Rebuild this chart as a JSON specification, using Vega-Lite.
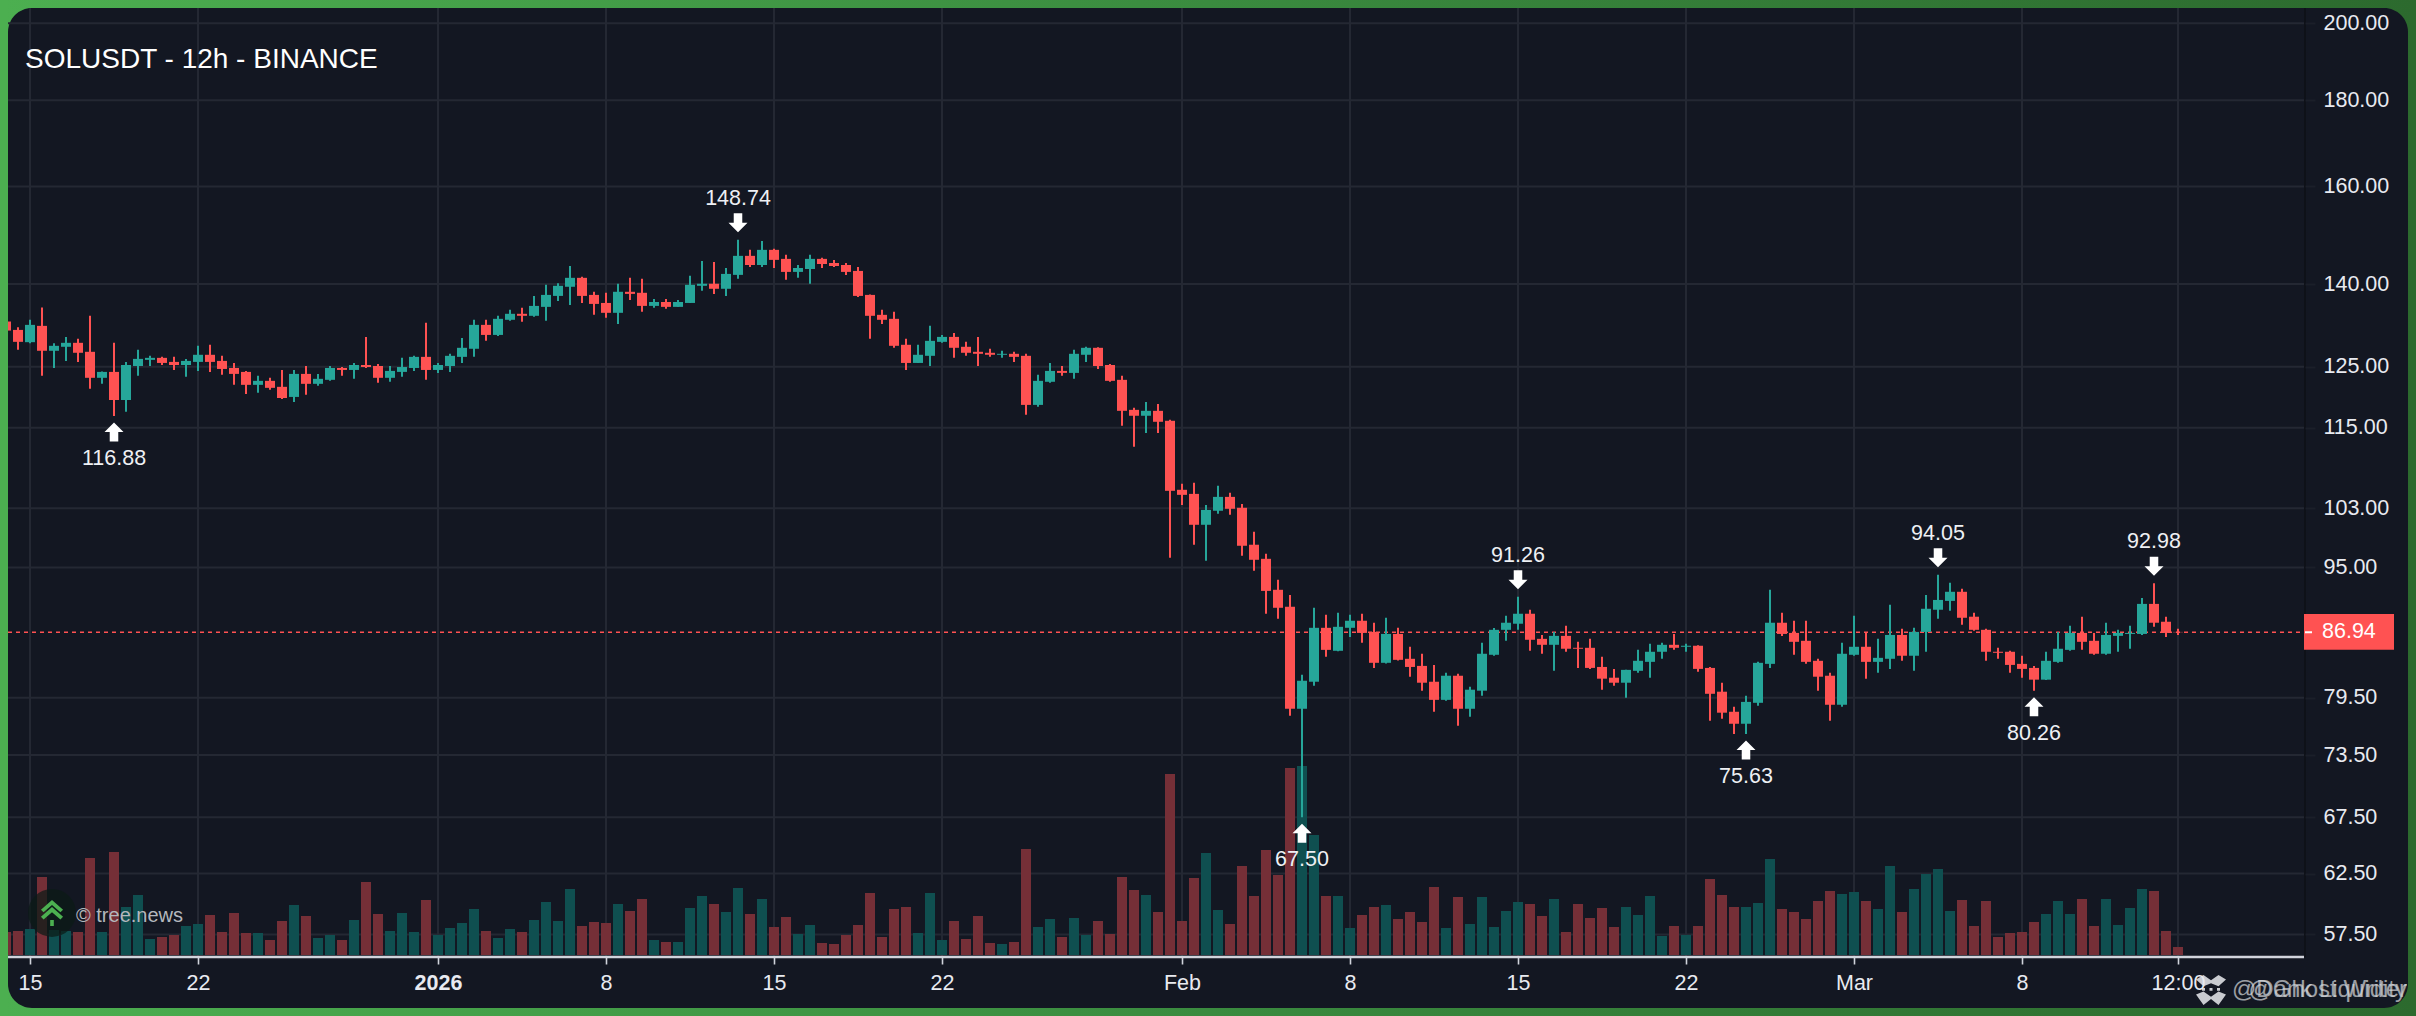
{
  "$schema": "https://vega.github.io/schema/vega-lite/v6.json",
  "width": 2416,
  "height": 1016,
  "padding": 0,
  "autosize": "none",
  "background": "#3d8d40",
  "config": {"view": {"stroke": null}, "font": "Liberation Sans", "axis": {"title": null}},
  "datasets": {
    "candles": [
      {"t":"2025-12-14T00:00Z","o":133.00,"h":133.31,"l":131.18,"c":131.36,"v":23},
      {"t":"2025-12-14T12:00Z","o":131.48,"h":131.97,"l":127.95,"c":129.35,"v":24},
      {"t":"2025-12-15T00:00Z","o":129.29,"h":133.31,"l":129.12,"c":132.39,"v":26},
      {"t":"2025-12-15T12:00Z","o":132.21,"h":135.57,"l":123.47,"c":127.78,"v":78},
      {"t":"2025-12-16T00:00Z","o":127.78,"h":129.12,"l":124.81,"c":128.65,"v":25},
      {"t":"2025-12-16T12:00Z","o":128.48,"h":130.23,"l":126.02,"c":129.18,"v":24},
      {"t":"2025-12-17T00:00Z","o":129.18,"h":129.88,"l":125.85,"c":127.43,"v":23},
      {"t":"2025-12-17T12:00Z","o":127.60,"h":134.04,"l":121.30,"c":123.14,"v":97},
      {"t":"2025-12-18T00:00Z","o":123.14,"h":124.20,"l":122.13,"c":124.14,"v":23},
      {"t":"2025-12-18T12:00Z","o":124.14,"h":129.18,"l":116.88,"c":119.46,"v":103},
      {"t":"2025-12-19T00:00Z","o":119.46,"h":125.85,"l":117.54,"c":125.32,"v":48},
      {"t":"2025-12-19T12:00Z","o":125.15,"h":127.95,"l":123.47,"c":126.37,"v":60},
      {"t":"2025-12-20T00:00Z","o":126.20,"h":126.90,"l":125.15,"c":126.55,"v":16},
      {"t":"2025-12-20T12:00Z","o":126.55,"h":126.72,"l":125.32,"c":125.67,"v":18},
      {"t":"2025-12-21T00:00Z","o":125.85,"h":126.72,"l":124.47,"c":125.32,"v":20},
      {"t":"2025-12-21T12:00Z","o":125.32,"h":126.37,"l":123.30,"c":126.02,"v":29},
      {"t":"2025-12-22T00:00Z","o":125.85,"h":128.65,"l":124.31,"c":127.08,"v":31},
      {"t":"2025-12-22T12:00Z","o":127.08,"h":128.83,"l":124.14,"c":125.85,"v":40},
      {"t":"2025-12-23T00:00Z","o":126.02,"h":126.90,"l":123.64,"c":124.64,"v":23},
      {"t":"2025-12-23T12:00Z","o":124.81,"h":125.67,"l":121.96,"c":123.80,"v":42},
      {"t":"2025-12-24T00:00Z","o":124.14,"h":124.31,"l":120.46,"c":121.96,"v":22},
      {"t":"2025-12-24T12:00Z","o":121.96,"h":123.47,"l":120.63,"c":122.63,"v":22},
      {"t":"2025-12-25T00:00Z","o":122.63,"h":123.14,"l":121.13,"c":121.46,"v":15},
      {"t":"2025-12-25T12:00Z","o":121.63,"h":124.47,"l":119.63,"c":119.79,"v":34},
      {"t":"2025-12-26T00:00Z","o":119.96,"h":124.47,"l":119.14,"c":123.80,"v":50},
      {"t":"2025-12-26T12:00Z","o":123.80,"h":125.15,"l":120.30,"c":122.13,"v":39},
      {"t":"2025-12-27T00:00Z","o":122.13,"h":123.80,"l":121.80,"c":122.97,"v":17},
      {"t":"2025-12-27T12:00Z","o":122.80,"h":125.15,"l":122.63,"c":124.81,"v":20},
      {"t":"2025-12-28T00:00Z","o":124.81,"h":124.97,"l":123.47,"c":124.47,"v":15},
      {"t":"2025-12-28T12:00Z","o":124.47,"h":125.67,"l":122.97,"c":125.32,"v":35},
      {"t":"2025-12-29T00:00Z","o":125.32,"h":130.23,"l":124.81,"c":124.97,"v":73},
      {"t":"2025-12-29T12:00Z","o":125.15,"h":125.50,"l":122.30,"c":123.14,"v":41},
      {"t":"2025-12-30T00:00Z","o":123.14,"h":125.15,"l":122.47,"c":124.31,"v":24},
      {"t":"2025-12-30T12:00Z","o":124.14,"h":126.55,"l":123.30,"c":124.97,"v":42},
      {"t":"2025-12-31T00:00Z","o":124.81,"h":126.90,"l":124.31,"c":126.72,"v":23},
      {"t":"2025-12-31T12:00Z","o":126.72,"h":132.76,"l":122.80,"c":124.47,"v":55},
      {"t":"2026-01-01T00:00Z","o":124.47,"h":125.67,"l":123.97,"c":125.32,"v":20},
      {"t":"2026-01-01T12:00Z","o":125.15,"h":127.25,"l":124.14,"c":126.90,"v":27},
      {"t":"2026-01-02T00:00Z","o":126.72,"h":130.05,"l":125.67,"c":128.30,"v":32},
      {"t":"2026-01-02T12:00Z","o":128.13,"h":133.31,"l":126.72,"c":132.39,"v":46},
      {"t":"2026-01-03T00:00Z","o":132.39,"h":133.31,"l":129.53,"c":130.58,"v":24},
      {"t":"2026-01-03T12:00Z","o":130.58,"h":134.04,"l":130.40,"c":133.49,"v":17},
      {"t":"2026-01-04T00:00Z","o":133.31,"h":135.14,"l":133.12,"c":134.41,"v":26},
      {"t":"2026-01-04T12:00Z","o":134.41,"h":135.51,"l":132.94,"c":134.04,"v":23},
      {"t":"2026-01-05T00:00Z","o":134.04,"h":137.74,"l":133.86,"c":135.87,"v":35},
      {"t":"2026-01-05T12:00Z","o":135.69,"h":139.85,"l":133.12,"c":137.93,"v":53},
      {"t":"2026-01-06T00:00Z","o":137.74,"h":140.17,"l":136.79,"c":139.66,"v":34},
      {"t":"2026-01-06T12:00Z","o":139.47,"h":143.49,"l":136.05,"c":141.19,"v":66},
      {"t":"2026-01-07T00:00Z","o":141.19,"h":141.38,"l":136.42,"c":137.74,"v":29},
      {"t":"2026-01-07T12:00Z","o":137.93,"h":138.52,"l":134.22,"c":136.24,"v":33},
      {"t":"2026-01-08T00:00Z","o":136.42,"h":138.33,"l":133.67,"c":134.59,"v":32},
      {"t":"2026-01-08T12:00Z","o":134.59,"h":140.05,"l":132.57,"c":138.52,"v":51},
      {"t":"2026-01-09T00:00Z","o":138.52,"h":141.19,"l":136.97,"c":138.12,"v":44},
      {"t":"2026-01-09T12:00Z","o":138.33,"h":141.00,"l":134.77,"c":135.87,"v":56},
      {"t":"2026-01-10T00:00Z","o":135.87,"h":137.16,"l":135.51,"c":136.60,"v":15},
      {"t":"2026-01-10T12:00Z","o":136.60,"h":137.16,"l":135.32,"c":135.69,"v":13},
      {"t":"2026-01-11T00:00Z","o":135.69,"h":136.97,"l":135.69,"c":136.60,"v":13},
      {"t":"2026-01-11T12:00Z","o":136.42,"h":141.57,"l":136.42,"c":139.85,"v":47},
      {"t":"2026-01-12T00:00Z","o":139.66,"h":144.50,"l":138.71,"c":140.05,"v":59},
      {"t":"2026-01-12T12:00Z","o":140.05,"h":144.29,"l":138.12,"c":139.09,"v":51},
      {"t":"2026-01-13T00:00Z","o":139.09,"h":143.10,"l":137.74,"c":141.95,"v":43},
      {"t":"2026-01-13T12:00Z","o":141.76,"h":148.74,"l":141.00,"c":145.50,"v":67},
      {"t":"2026-01-14T00:00Z","o":145.50,"h":146.70,"l":143.30,"c":143.69,"v":41},
      {"t":"2026-01-14T12:00Z","o":143.69,"h":148.51,"l":143.30,"c":146.70,"v":56},
      {"t":"2026-01-15T00:00Z","o":146.70,"h":146.90,"l":143.10,"c":144.70,"v":28},
      {"t":"2026-01-15T12:00Z","o":144.90,"h":145.70,"l":140.80,"c":142.34,"v":38},
      {"t":"2026-01-16T00:00Z","o":142.34,"h":143.69,"l":141.19,"c":143.10,"v":21},
      {"t":"2026-01-16T12:00Z","o":142.91,"h":145.70,"l":140.05,"c":144.90,"v":30},
      {"t":"2026-01-17T00:00Z","o":144.90,"h":145.10,"l":143.10,"c":143.89,"v":12},
      {"t":"2026-01-17T12:00Z","o":144.09,"h":144.70,"l":143.30,"c":143.49,"v":11},
      {"t":"2026-01-18T00:00Z","o":143.69,"h":144.09,"l":141.76,"c":142.34,"v":20},
      {"t":"2026-01-18T12:00Z","o":142.53,"h":143.30,"l":137.55,"c":137.74,"v":30},
      {"t":"2026-01-19T00:00Z","o":137.93,"h":138.00,"l":129.88,"c":134.04,"v":62},
      {"t":"2026-01-19T12:00Z","o":134.22,"h":135.14,"l":132.57,"c":133.31,"v":18},
      {"t":"2026-01-20T00:00Z","o":133.49,"h":134.77,"l":128.30,"c":128.65,"v":46},
      {"t":"2026-01-20T12:00Z","o":128.83,"h":129.88,"l":124.47,"c":125.67,"v":48},
      {"t":"2026-01-21T00:00Z","o":125.67,"h":128.83,"l":125.67,"c":127.08,"v":22},
      {"t":"2026-01-21T12:00Z","o":126.90,"h":132.21,"l":125.15,"c":129.53,"v":62},
      {"t":"2026-01-22T00:00Z","o":129.35,"h":130.58,"l":129.18,"c":130.23,"v":15},
      {"t":"2026-01-22T12:00Z","o":130.23,"h":130.93,"l":126.55,"c":128.30,"v":34},
      {"t":"2026-01-23T00:00Z","o":128.48,"h":129.35,"l":126.90,"c":127.43,"v":16},
      {"t":"2026-01-23T12:00Z","o":127.60,"h":130.23,"l":125.15,"c":127.25,"v":39},
      {"t":"2026-01-24T00:00Z","o":127.43,"h":128.13,"l":126.72,"c":127.08,"v":12},
      {"t":"2026-01-24T12:00Z","o":127.08,"h":127.78,"l":126.55,"c":127.25,"v":11},
      {"t":"2026-01-25T00:00Z","o":127.25,"h":127.60,"l":125.85,"c":126.72,"v":13},
      {"t":"2026-01-25T12:00Z","o":126.90,"h":127.25,"l":117.07,"c":118.66,"v":106},
      {"t":"2026-01-26T00:00Z","o":118.66,"h":123.64,"l":118.34,"c":122.63,"v":28},
      {"t":"2026-01-26T12:00Z","o":122.47,"h":125.67,"l":122.30,"c":124.31,"v":36},
      {"t":"2026-01-27T00:00Z","o":124.31,"h":125.15,"l":123.47,"c":123.97,"v":18},
      {"t":"2026-01-27T12:00Z","o":123.97,"h":127.95,"l":122.97,"c":127.25,"v":37},
      {"t":"2026-01-28T00:00Z","o":127.08,"h":128.48,"l":125.85,"c":128.30,"v":20},
      {"t":"2026-01-28T12:00Z","o":128.30,"h":128.40,"l":124.64,"c":125.15,"v":34},
      {"t":"2026-01-29T00:00Z","o":125.32,"h":125.50,"l":122.47,"c":122.63,"v":21},
      {"t":"2026-01-29T12:00Z","o":122.80,"h":123.47,"l":115.31,"c":117.70,"v":78},
      {"t":"2026-01-30T00:00Z","o":117.86,"h":118.18,"l":112.05,"c":116.91,"v":65},
      {"t":"2026-01-30T12:00Z","o":116.91,"h":119.14,"l":114.19,"c":117.70,"v":60},
      {"t":"2026-01-31T00:00Z","o":117.70,"h":118.82,"l":114.19,"c":115.95,"v":43},
      {"t":"2026-01-31T12:00Z","o":116.11,"h":116.27,"l":96.26,"c":105.50,"v":181},
      {"t":"2026-02-01T00:00Z","o":105.65,"h":106.52,"l":103.49,"c":104.92,"v":34},
      {"t":"2026-02-01T12:00Z","o":105.06,"h":106.67,"l":98.00,"c":100.71,"v":77},
      {"t":"2026-02-02T00:00Z","o":100.71,"h":103.49,"l":95.86,"c":102.78,"v":102},
      {"t":"2026-02-02T12:00Z","o":102.66,"h":106.23,"l":102.23,"c":104.63,"v":45},
      {"t":"2026-02-03T00:00Z","o":104.63,"h":105.21,"l":102.09,"c":102.94,"v":31},
      {"t":"2026-02-03T12:00Z","o":103.08,"h":103.63,"l":96.53,"c":97.86,"v":89},
      {"t":"2026-02-04T00:00Z","o":98.00,"h":99.74,"l":94.56,"c":96.00,"v":59},
      {"t":"2026-02-04T12:00Z","o":96.13,"h":96.80,"l":89.17,"c":92.00,"v":105},
      {"t":"2026-02-05T00:00Z","o":92.14,"h":93.41,"l":88.56,"c":89.90,"v":80},
      {"t":"2026-02-05T12:00Z","o":90.02,"h":91.50,"l":77.56,"c":78.30,"v":187},
      {"t":"2026-02-06T00:00Z","o":78.30,"h":82.03,"l":67.50,"c":81.36,"v":189},
      {"t":"2026-02-06T12:00Z","o":81.25,"h":89.90,"l":80.81,"c":87.47,"v":120},
      {"t":"2026-02-07T00:00Z","o":87.47,"h":89.05,"l":84.07,"c":84.87,"v":59},
      {"t":"2026-02-07T12:00Z","o":84.76,"h":89.29,"l":84.70,"c":87.59,"v":59},
      {"t":"2026-02-08T00:00Z","o":87.47,"h":89.05,"l":86.39,"c":88.32,"v":27},
      {"t":"2026-02-08T12:00Z","o":88.32,"h":89.17,"l":85.70,"c":86.86,"v":40},
      {"t":"2026-02-09T00:00Z","o":86.98,"h":88.08,"l":82.80,"c":83.38,"v":48},
      {"t":"2026-02-09T12:00Z","o":83.38,"h":88.68,"l":83.30,"c":86.74,"v":50},
      {"t":"2026-02-10T00:00Z","o":86.74,"h":87.47,"l":83.65,"c":83.72,"v":36},
      {"t":"2026-02-10T12:00Z","o":83.84,"h":85.23,"l":81.81,"c":82.91,"v":43},
      {"t":"2026-02-11T00:00Z","o":83.03,"h":84.42,"l":80.26,"c":81.14,"v":33},
      {"t":"2026-02-11T12:00Z","o":81.25,"h":83.14,"l":77.98,"c":79.26,"v":68},
      {"t":"2026-02-12T00:00Z","o":79.26,"h":82.25,"l":79.15,"c":81.92,"v":27},
      {"t":"2026-02-12T12:00Z","o":81.92,"h":82.14,"l":76.50,"c":78.30,"v":58},
      {"t":"2026-02-13T00:00Z","o":78.30,"h":80.70,"l":77.45,"c":80.37,"v":31},
      {"t":"2026-02-13T12:00Z","o":80.26,"h":85.70,"l":79.70,"c":84.42,"v":58},
      {"t":"2026-02-14T00:00Z","o":84.30,"h":87.45,"l":84.19,"c":87.23,"v":28},
      {"t":"2026-02-14T12:00Z","o":87.23,"h":88.93,"l":85.93,"c":88.08,"v":44},
      {"t":"2026-02-15T00:00Z","o":87.96,"h":91.26,"l":87.23,"c":89.17,"v":53},
      {"t":"2026-02-15T12:00Z","o":89.17,"h":89.66,"l":84.76,"c":86.05,"v":51},
      {"t":"2026-02-16T00:00Z","o":86.16,"h":86.62,"l":84.42,"c":85.46,"v":39},
      {"t":"2026-02-16T12:00Z","o":85.46,"h":86.98,"l":82.47,"c":86.51,"v":56},
      {"t":"2026-02-17T00:00Z","o":86.51,"h":87.71,"l":84.65,"c":85.00,"v":23},
      {"t":"2026-02-17T12:00Z","o":85.11,"h":85.81,"l":82.80,"c":85.00,"v":51},
      {"t":"2026-02-18T00:00Z","o":85.11,"h":86.16,"l":82.69,"c":82.80,"v":37},
      {"t":"2026-02-18T12:00Z","o":82.91,"h":84.07,"l":80.37,"c":81.59,"v":47},
      {"t":"2026-02-19T00:00Z","o":81.70,"h":82.69,"l":80.81,"c":81.14,"v":28},
      {"t":"2026-02-19T12:00Z","o":81.14,"h":82.60,"l":79.48,"c":82.58,"v":48},
      {"t":"2026-02-20T00:00Z","o":82.47,"h":84.87,"l":82.25,"c":83.61,"v":40},
      {"t":"2026-02-20T12:00Z","o":83.49,"h":85.58,"l":81.70,"c":84.65,"v":59},
      {"t":"2026-02-21T00:00Z","o":84.65,"h":85.70,"l":83.84,"c":85.46,"v":19},
      {"t":"2026-02-21T12:00Z","o":85.46,"h":86.74,"l":84.87,"c":85.11,"v":29},
      {"t":"2026-02-22T00:00Z","o":85.23,"h":85.58,"l":84.65,"c":85.35,"v":20},
      {"t":"2026-02-22T12:00Z","o":85.35,"h":85.40,"l":82.36,"c":82.69,"v":29},
      {"t":"2026-02-23T00:00Z","o":82.80,"h":82.91,"l":77.03,"c":79.92,"v":76},
      {"t":"2026-02-23T12:00Z","o":80.15,"h":81.14,"l":77.24,"c":77.88,"v":60},
      {"t":"2026-02-24T00:00Z","o":77.98,"h":78.52,"l":75.65,"c":76.71,"v":48},
      {"t":"2026-02-24T12:00Z","o":76.71,"h":79.70,"l":75.63,"c":79.04,"v":48},
      {"t":"2026-02-25T00:00Z","o":78.94,"h":83.49,"l":78.62,"c":83.38,"v":52},
      {"t":"2026-02-25T12:00Z","o":83.26,"h":92.14,"l":82.80,"c":88.08,"v":96},
      {"t":"2026-02-26T00:00Z","o":88.08,"h":89.29,"l":86.51,"c":86.74,"v":46},
      {"t":"2026-02-26T12:00Z","o":86.86,"h":88.32,"l":84.30,"c":85.81,"v":43},
      {"t":"2026-02-27T00:00Z","o":85.93,"h":88.32,"l":83.26,"c":83.49,"v":36},
      {"t":"2026-02-27T12:00Z","o":83.61,"h":83.84,"l":80.26,"c":81.81,"v":54},
      {"t":"2026-02-28T00:00Z","o":81.92,"h":82.25,"l":77.03,"c":78.73,"v":64},
      {"t":"2026-02-28T12:00Z","o":78.73,"h":85.70,"l":78.52,"c":84.42,"v":61},
      {"t":"2026-03-01T00:00Z","o":84.30,"h":88.93,"l":84.19,"c":85.23,"v":63},
      {"t":"2026-03-01T12:00Z","o":85.23,"h":86.98,"l":81.59,"c":83.49,"v":54},
      {"t":"2026-03-02T00:00Z","o":83.49,"h":86.16,"l":82.25,"c":83.95,"v":46},
      {"t":"2026-03-02T12:00Z","o":83.84,"h":90.26,"l":82.69,"c":86.62,"v":89},
      {"t":"2026-03-03T00:00Z","o":86.62,"h":87.35,"l":83.61,"c":84.19,"v":43},
      {"t":"2026-03-03T12:00Z","o":84.19,"h":87.47,"l":82.47,"c":86.98,"v":66},
      {"t":"2026-03-04T00:00Z","o":86.98,"h":91.50,"l":84.65,"c":89.78,"v":81},
      {"t":"2026-03-04T12:00Z","o":89.66,"h":94.05,"l":88.56,"c":90.87,"v":86},
      {"t":"2026-03-05T00:00Z","o":90.75,"h":93.03,"l":89.54,"c":91.89,"v":44},
      {"t":"2026-03-05T12:00Z","o":91.89,"h":92.27,"l":87.83,"c":88.68,"v":55},
      {"t":"2026-03-06T00:00Z","o":88.81,"h":89.29,"l":87.11,"c":87.23,"v":29},
      {"t":"2026-03-06T12:00Z","o":87.23,"h":87.35,"l":83.61,"c":84.65,"v":54},
      {"t":"2026-03-07T00:00Z","o":84.65,"h":85.11,"l":83.84,"c":84.53,"v":18},
      {"t":"2026-03-07T12:00Z","o":84.65,"h":84.76,"l":82.25,"c":83.14,"v":22},
      {"t":"2026-03-08T00:00Z","o":83.26,"h":84.19,"l":81.70,"c":82.69,"v":23},
      {"t":"2026-03-08T12:00Z","o":82.80,"h":83.03,"l":80.26,"c":81.48,"v":33},
      {"t":"2026-03-09T00:00Z","o":81.48,"h":84.65,"l":81.45,"c":83.61,"v":41},
      {"t":"2026-03-09T12:00Z","o":83.49,"h":86.98,"l":83.38,"c":85.00,"v":54},
      {"t":"2026-03-10T00:00Z","o":84.87,"h":87.71,"l":84.76,"c":86.86,"v":41},
      {"t":"2026-03-10T12:00Z","o":86.86,"h":88.81,"l":84.87,"c":85.81,"v":56},
      {"t":"2026-03-11T00:00Z","o":85.93,"h":86.86,"l":84.30,"c":84.42,"v":29},
      {"t":"2026-03-11T12:00Z","o":84.42,"h":88.08,"l":84.30,"c":86.62,"v":56},
      {"t":"2026-03-12T00:00Z","o":86.51,"h":87.23,"l":84.65,"c":86.86,"v":30},
      {"t":"2026-03-12T12:00Z","o":86.74,"h":87.71,"l":85.00,"c":86.86,"v":47},
      {"t":"2026-03-13T00:00Z","o":86.74,"h":91.12,"l":86.62,"c":90.38,"v":66},
      {"t":"2026-03-13T12:00Z","o":90.38,"h":92.98,"l":87.59,"c":88.08,"v":64},
      {"t":"2026-03-14T00:00Z","o":88.20,"h":88.81,"l":86.39,"c":86.86,"v":24},
      {"t":"2026-03-14T12:00Z","o":86.98,"h":87.35,"l":86.62,"c":86.94,"v":8}
    ],
    "priceTicks": [{"p":200},{"p":180},{"p":160},{"p":140},{"p":125},{"p":115},{"p":103},{"p":95},{"p":79.5},{"p":73.5},{"p":67.5},{"p":62.5},{"p":57.5}],
    "timeTicks": [{"t":1765756800000},{"t":1766361600000},{"t":1767225600000},{"t":1767830400000},{"t":1768435200000},{"t":1769040000000},{"t":1769904000000},{"t":1770508800000},{"t":1771113600000},{"t":1771718400000},{"t":1772323200000},{"t":1772928000000},{"t":1773489600000}],
    "extremes": [
      {"t":"2025-12-18T12:00Z","price":116.88,"kind":"low"},
      {"t":"2026-01-13T12:00Z","price":148.74,"kind":"high"},
      {"t":"2026-02-06T00:00Z","price":67.50,"kind":"low"},
      {"t":"2026-02-15T00:00Z","price":91.26,"kind":"high"},
      {"t":"2026-02-24T12:00Z","price":75.63,"kind":"low"},
      {"t":"2026-03-04T12:00Z","price":94.05,"kind":"high"},
      {"t":"2026-03-08T12:00Z","price":80.26,"kind":"low"},
      {"t":"2026-03-13T12:00Z","price":92.98,"kind":"high"}
    ]
  },
  "layer": [
    {
      "layer": [
        {
          "data": {"values": [{}]},
          "mark": {"type": "rect", "fill": {"gradient": "linear", "x1": 0, "x2": 1, "y1": 0, "y2": 0, "stops": [{"offset": 0, "color": "#4caf50"}, {"offset": 0.5, "color": "#3a8b3f"}, {"offset": 1, "color": "#2c6a2e"}]}},
          "encoding": {
            "x": {"datum": 1765648800000, "type": "temporal", "scale": {"type": "utc", "domain": [1765648800000, 1774346400000], "nice": false, "padding": 0}, "axis": {"orient": "bottom", "offset": -59, "values": [1765756800000, 1766361600000, 1767225600000, 1767830400000, 1768435200000, 1769040000000, 1769904000000, 1770508800000, 1771113600000, 1771718400000, 1772323200000, 1772928000000, 1773489600000], "labelExpr": "utchours(datum.value) == 12 ? '12:00' : utcdate(datum.value) == 1 ? (utcmonth(datum.value) == 0 ? utcFormat(datum.value, '%Y') : utcFormat(datum.value, '%b')) : utcFormat(datum.value, '%-d')", "labelFontWeight": {"condition": {"test": "utcmonth(datum.value) == 0 && utcdate(datum.value) == 1", "value": 700}, "value": 400}, "title": null, "grid": false, "domain": false, "tickColor": "#d1d4dc", "tickWidth": 1.6, "tickSize": 7, "labelColor": "#e8eaf0", "labelFont": "Liberation Sans", "labelFontSize": 21.5, "labelPadding": 8, "labelOverlap": false, "labelBound": false, "labelFlush": false, "zindex": 1}},
            "x2": {"datum": 1774346400000},
            "y": {"datum": 206.48, "type": "quantitative", "axis": null, "scale": {"type": "log", "domain": [51.43, 206.48], "nice": false}},
            "y2": {"datum": 51.43}
          }
        },
        {
          "data": {"values": [{}]},
          "mark": {"type": "rect", "fill": "#131722", "cornerRadius": 24},
          "encoding": {
            "x": {"datum": 1765677600000, "type": "temporal"},
            "x2": {"datum": 1774317600000},
            "y": {"datum": 204.23, "type": "quantitative", "axis": null},
            "y2": {"datum": 52.0}
          }
        },
        {
          "data": {"name": "priceTicks"},
          "mark": {"type": "rule", "color": "#242833", "strokeWidth": 2},
          "encoding": {
            "x": {"datum": 1765677600000, "type": "temporal"},
            "x2": {"datum": 1773943200000},
            "y": {"field": "p", "type": "quantitative", "axis": null}
          }
        },
        {
          "data": {"name": "timeTicks"},
          "mark": {"type": "rule", "color": "#242833", "strokeWidth": 2},
          "encoding": {
            "x": {"field": "t", "type": "temporal"},
            "y": {"datum": 204.23, "type": "quantitative", "axis": null},
            "y2": {"datum": 55.76}
          }
        }
      ]
    },
    {
      "data": {"name": "candles"},
      "mark": {"type": "bar", "size": 10},
      "encoding": {
        "x": {"field": "t", "type": "temporal"},
        "y": {"field": "v", "type": "quantitative", "axis": null, "scale": {"domain": [-61, 955], "nice": false, "zero": false}},
        "y2": {"datum": 0},
        "color": {"condition": {"test": "datum.c >= datum.o", "value": "#0f4f50"}, "value": "#752f37"}
      }
    },
    {
      "layer": [
        {
          "data": {"values": [{"p": 86.94}]},
          "mark": {"type": "rule", "color": "#ff5252", "strokeWidth": 1.6, "strokeDash": [4, 4]},
          "encoding": {
            "x": {"datum": 1765677600000, "type": "temporal"},
            "x2": {"datum": 1773943200000},
            "y": {"field": "p", "type": "quantitative", "scale": {"type": "log", "domain": [51.43, 206.48], "nice": false}, "axis": {"orient": "right", "offset": -111, "values": [200, 180, 160, 140, 125, 115, 103, 95, 79.5, 73.5, 67.5, 62.5, 57.5], "format": ".2f", "title": null, "grid": false, "domain": false, "tickColor": "#1b1f29", "tickWidth": 2, "tickSize": 10, "labelColor": "#e8eaf0", "labelFont": "Liberation Sans", "labelFontSize": 21.5, "labelPadding": 8, "labelOverlap": false, "labelBound": false, "zindex": 1}}
          }
        },
        {
          "data": {"name": "candles"},
          "mark": {"type": "rule", "strokeWidth": 2},
          "encoding": {
            "x": {"field": "t", "type": "temporal"},
            "y": {"field": "h", "type": "quantitative"},
            "y2": {"field": "l"},
            "color": {"condition": {"test": "datum.c >= datum.o", "value": "#26a69a"}, "value": "#ff5252"}
          }
        },
        {
          "data": {"name": "candles"},
          "mark": {"type": "bar", "size": 10},
          "encoding": {
            "x": {"field": "t", "type": "temporal"},
            "y": {"field": "o", "type": "quantitative"},
            "y2": {"field": "c"},
            "color": {"condition": {"test": "datum.c >= datum.o", "value": "#26a69a"}, "value": "#ff5252"}
          }
        },
        {
          "data": {"values": [{}]},
          "mark": {"type": "rule", "color": "#d1d4dc", "strokeWidth": 2.5},
          "encoding": {
            "x": {"datum": 1765677600000, "type": "temporal"},
            "x2": {"datum": 1773943200000},
            "y": {"datum": 55.76, "type": "quantitative"}
          }
        },
        {
          "data": {"values": [{}]},
          "mark": {"type": "rule", "color": "#0e1118", "strokeWidth": 2},
          "encoding": {
            "x": {"datum": 1773946800000, "type": "temporal"},
            "y": {"datum": 204.23, "type": "quantitative"},
            "y2": {"datum": 55.76}
          }
        },
        {
          "data": {"values": [{}]},
          "mark": {"type": "rect", "fill": "#4caf50"},
          "encoding": {
            "x": {"datum": 1765648800000, "type": "temporal"},
            "x2": {"datum": 1765677600000},
            "y": {"datum": 206.48, "type": "quantitative"},
            "y2": {"datum": 51.43}
          }
        },
        {
          "data": {"values": [{"p": 59.22}]},
          "mark": {"type": "point", "shape": "circle", "filled": true, "size": 2304, "color": "#0b1a16", "opacity": 0.72, "strokeWidth": 0},
          "encoding": {
            "x": {"datum": 1765836000000, "type": "temporal"},
            "y": {"field": "p", "type": "quantitative"}
          }
        },
        {
          "data": {"values": [{"p": 59.22}]},
          "mark": {"type": "point", "shape": "M0,-1 L0.85,-0.25 L0.65,-0.05 L0,-0.6 L-0.65,-0.05 L-0.85,-0.25 Z M0,-0.45 L0.85,0.3 L0.65,0.5 L0,-0.05 L-0.65,0.5 L-0.85,0.3 Z M-0.14,0.55 L0.14,0.55 L0.14,1 L-0.14,1 Z", "filled": true, "size": 676, "color": "#4caf50", "opacity": 1, "strokeWidth": 0},
          "encoding": {
            "x": {"datum": 1765836000000, "type": "temporal"},
            "y": {"field": "p", "type": "quantitative"}
          }
        },
        {
          "data": {"values": [{"p": 58.97, "label": "© tree.news"}]},
          "mark": {"type": "text", "align": "left", "baseline": "middle", "fontSize": 20, "color": "#b4b7bd"},
          "encoding": {
            "x": {"datum": 1765922400000, "type": "temporal"},
            "y": {"field": "p", "type": "quantitative"},
            "text": {"field": "label"}
          }
        },
        {
          "data": {"values": [{"p": 190.2, "label": "SOLUSDT - 12h - BINANCE"}]},
          "mark": {"type": "text", "align": "left", "baseline": "middle", "fontSize": 28, "color": "#ffffff"},
          "encoding": {
            "x": {"datum": 1765738800000, "type": "temporal"},
            "y": {"field": "p", "type": "quantitative"},
            "text": {"field": "label"}
          }
        },
        {
          "data": {"name": "extremes"},
          "transform": [{"filter": "datum.kind == 'low'"}],
          "mark": {"type": "point", "shape": "M0,-1 L1,0 L0.45,0 L0.45,1 L-0.45,1 L-0.45,0 L-1,0 Z", "filled": true, "size": 361, "color": "#ffffff", "opacity": 1, "strokeWidth": 0, "yOffset": 16},
          "encoding": {
            "x": {"field": "t", "type": "temporal"},
            "y": {"field": "price", "type": "quantitative"}
          }
        },
        {
          "data": {"name": "extremes"},
          "transform": [{"filter": "datum.kind == 'high'"}],
          "mark": {"type": "point", "shape": "M0,1 L1,0 L0.45,0 L0.45,-1 L-0.45,-1 L-0.45,0 L-1,0 Z", "filled": true, "size": 361, "color": "#ffffff", "opacity": 1, "strokeWidth": 0, "yOffset": -17},
          "encoding": {
            "x": {"field": "t", "type": "temporal"},
            "y": {"field": "price", "type": "quantitative"}
          }
        },
        {
          "data": {"name": "extremes"},
          "transform": [{"filter": "datum.kind == 'low'"}],
          "mark": {"type": "text", "baseline": "middle", "fontSize": 21.5, "color": "#eef0f4", "dy": 43},
          "encoding": {
            "x": {"field": "t", "type": "temporal"},
            "y": {"field": "price", "type": "quantitative"},
            "text": {"field": "price", "type": "quantitative", "format": ".2f"}
          }
        },
        {
          "data": {"name": "extremes"},
          "transform": [{"filter": "datum.kind == 'high'"}],
          "mark": {"type": "text", "baseline": "middle", "fontSize": 21.5, "color": "#eef0f4", "dy": -41},
          "encoding": {
            "x": {"field": "t", "type": "temporal"},
            "y": {"field": "price", "type": "quantitative"},
            "text": {"field": "price", "type": "quantitative", "format": ".2f"}
          }
        },
        {
          "data": {"values": [{}]},
          "mark": {"type": "rect", "fill": "#ff5252"},
          "encoding": {
            "x": {"datum": 1773943200000, "type": "temporal"},
            "x2": {"datum": 1774267200000},
            "y": {"datum": 89.15, "type": "quantitative"},
            "y2": {"datum": 84.87}
          }
        },
        {
          "data": {"values": [{"p": 86.94}]},
          "mark": {"type": "rule", "color": "#ffffff", "strokeWidth": 2},
          "encoding": {
            "x": {"datum": 1773946800000, "type": "temporal"},
            "x2": {"datum": 1773972000000},
            "y": {"field": "p", "type": "quantitative"}
          }
        },
        {
          "data": {"values": [{"p": 86.94}]},
          "mark": {"type": "text", "align": "left", "baseline": "middle", "fontSize": 21.5, "color": "#ffffff"},
          "encoding": {
            "x": {"datum": 1774008000000, "type": "temporal"},
            "y": {"field": "p", "type": "quantitative"},
            "text": {"field": "p", "type": "quantitative", "format": ".2f"}
          }
        },
        {
          "data": {"values": [{"p": 53.3}]},
          "mark": {"type": "point", "shape": "M-1,-0.7 L-0.5,-1 L0,-0.65 L0.5,-1 L1,-0.7 L0.5,-0.25 L0,-0.45 L-0.5,-0.25 Z M-1,0.3 L-0.5,0.1 L0,0.45 L0.5,0.1 L1,0.3 L0.5,1 L0,0.6 L-0.5,1 Z M-0.6,-0.12 L-0.4,-0.12 L-0.4,0.05 L-0.6,0.05 Z M0.4,-0.12 L0.6,-0.12 L0.6,0.05 L0.4,0.05 Z M-0.1,-0.12 L0.1,-0.12 L0.1,0.05 L-0.1,0.05 Z", "filled": true, "size": 900, "color": "#c9cbd0", "opacity": 1, "strokeWidth": 0},
          "encoding": {
            "x": {"datum": 1773608400000, "type": "temporal"},
            "y": {"field": "p", "type": "quantitative"}
          }
        },
        {
          "data": {"values": [{"p": 53.3, "label": "@Dank Liquidity"}, {"p": 53.3, "label": "@Ghost Writer"}]},
          "mark": {"type": "text", "align": "right", "baseline": "middle", "fontSize": 24, "color": "#d5d7db", "opacity": 0.7},
          "encoding": {
            "x": {"datum": 1774314000000, "type": "temporal"},
            "y": {"field": "p", "type": "quantitative"},
            "text": {"field": "label"}
          }
        }
      ]
    }
  ],
  "resolve": {"scale": {"y": "independent"}}
}
